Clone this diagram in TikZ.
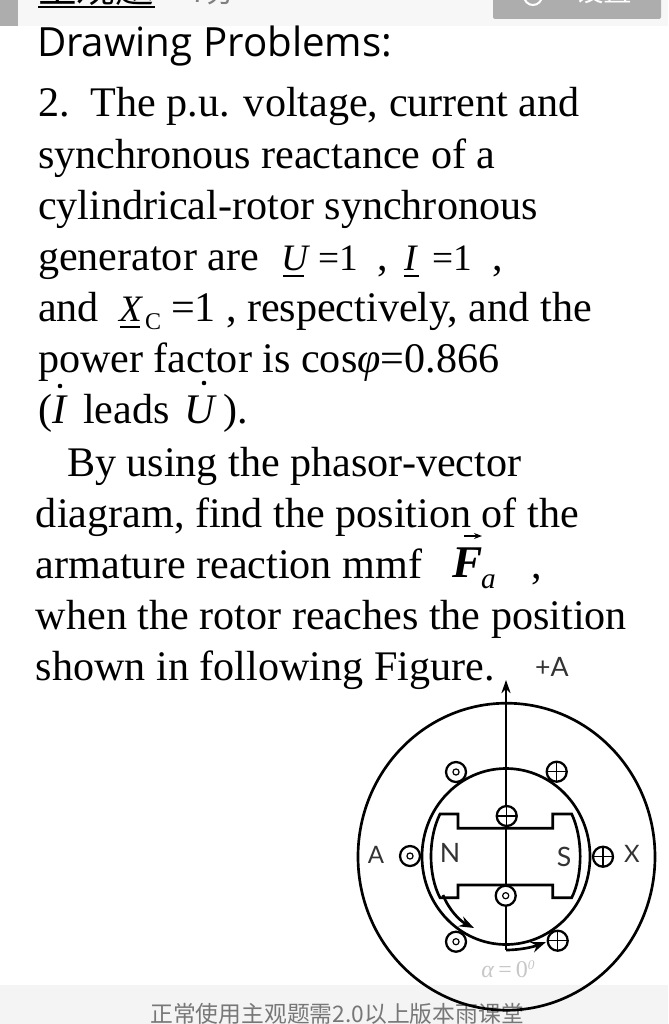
\documentclass[tikz,border=0pt]{standalone}
\usepackage{fontspec}
\setmainfont{Liberation Serif}
\newfontfamily\uifont{Open Sans}
\newfontfamily\labfont{Lato}
\newfontfamily\cjkfont{Noto Sans CJK SC}
\usetikzlibrary{arrows.meta}
\definecolor{barcol}{HTML}{F7F7F7}
\definecolor{tabcol}{HTML}{ADADAD}
\definecolor{footcol}{HTML}{F4F4F4}
\definecolor{foottxt}{HTML}{777777}
\tikzset{
  x=0.75pt,y=-0.75pt,
  txt/.style={anchor=base west,inner sep=0pt,outer sep=0pt,font=\fontsize{31.6}{36}\selectfont},
  mathi/.style={txt,font=\fontsize{31.6}{36}\selectfont\itshape},
  ui/.style={txt,font=\fontsize{30.2}{34}\selectfont\uifont},
  lab/.style={anchor=center,inner sep=0pt,font=\fontsize{18}{20}\selectfont\labfont,text=black!80},
  labbig/.style={lab,font=\fontsize{20}{22}\selectfont\labfont},
  mline/.style={line width=2pt,black},
  axisline/.style={line width=1.1pt,black},
  cond/.style={circle,draw,line width=1.7pt,minimum size=15pt,inner sep=0pt,fill=white},
  condin/.style={cond,path picture={\draw[line width=1.1pt] (path picture bounding box.north)--(path picture bounding box.south) (path picture bounding box.west)--(path picture bounding box.east);}},
  condout/.style={cond,path picture={\draw[line width=0.9pt] (path picture bounding box.center) circle[radius=2.3pt];}},
  tip/.style={-{Stealth[length=11pt,width=8pt]}},
}
\begin{document}
\begin{tikzpicture}
\useasboundingbox (0,0) rectangle (668,1024);
\fill[white] (0,0) rectangle (668,1024);
% top bar
\fill[barcol] (18,0) rectangle (668,26);
\fill[tabcol] (0,0) rectangle (18,26);
\fill[tabcol,rounded corners=1.5pt] (493,-5) rectangle (661,19);
\begin{scope}
\clip (0,0) rectangle (668,26);
\node[anchor=base west,inner sep=0pt,font=\fontsize{29}{30}\selectfont\cjkfont] (tt) at (38,3) {主观题};
\fill (38,6) rectangle (155,8);
\node[anchor=base west,inner sep=0pt,text=gray,font=\fontsize{22}{24}\selectfont\cjkfont] (ts) at (190,3) {7分};
\draw[white,line width=1.5pt] (533,-4) circle[radius=9];
\node[anchor=base west,inner sep=0pt,text=white,font=\fontsize{21.5}{24}\selectfont\cjkfont] (tb) at (575,2) {设置};
\end{scope}
% text
\node[ui] (h) at (37,57) {Drawing Problems:};
\node[txt] (l1) at (38,117) {2.\ \ The p.u. voltage, current and};
\node[txt] (l2) at (38,168) {synchronous reactance of a};
\node[txt] (l3) at (38,219) {cylindrical-rotor synchronous};
\node[txt] (l4) at (38,270) {generator are};
\node[mathi,font=\fontsize{28}{32}\selectfont\itshape] (u) at (281,270) {U};
\fill (283,275) rectangle (304,276.5);
\node[txt,font=\fontsize{28}{32}\selectfont] (ue) at (318,270) {=1};
\node[txt] (uc) at (377,270) {,};
\node[mathi,font=\fontsize{28}{32}\selectfont\itshape] (i) at (404,270) {I};
\fill (404,275) rectangle (419,276.5);
\node[txt,font=\fontsize{28}{32}\selectfont] (ie) at (432,270) {=1};
\node[txt] (ic) at (492,270) {,};
\node[txt] (l5) at (38,321) {and};
\node[mathi,font=\fontsize{28}{32}\selectfont\itshape] (x) at (119,321) {X};
\fill (120,326) rectangle (140,327.5);
\node[txt,font=\fontsize{18}{20}\selectfont] (xc) at (145,329) {C};
\node[txt] (xe) at (171,321) {=1};
\node[txt] (l5b) at (226,321) {, respectively, and the};
\node[txt] (l6) at (38,372) {power factor is cos\textit{φ}=0.866};
\node[txt] (l7) at (38,423) {(};
\node[mathi] (id) at (52,423) {I};
\node[txt] (l7b) at (83,423) {leads};
\node[mathi] (ud) at (184,423) {U};
\node[txt] (l7c) at (223,423) {).};
\fill (60,386) circle[radius=2.3];
\fill (204,383) circle[radius=2.3];
\node[txt] (l8) at (67,476) {By using the phasor-vector};
\node[txt] (l9) at (36,527) {diagram, find the position of the};
\node[txt] (l10) at (36,578) {armature reaction mmf};
\node[mathi,font=\fontsize{34}{38}\selectfont\itshape\bfseries] (f) at (452,577) {F};
\node[txt,font=\fontsize{22}{24}\selectfont\itshape] (fa) at (481,588) {a};
\node[txt] (fc) at (531,578) {,};
\coordinate (fa1) at (464,536);
\coordinate (fa2) at (482,536);
\draw[-{Stealth[length=6pt,width=4.5pt]},line width=0.8pt] (fa1)--(fa2);
\node[txt] (l11) at (36,629) {when the rotor reaches the position};
\node[txt] (l12) at (36,680) {shown in following Figure.};
% footer
\fill[footcol] (0,985) rectangle (668,1024);
\begin{scope}
\clip (0,985) rectangle (668,1024);
\node[anchor=base west,inner sep=0pt,text=foottxt,font=\fontsize{17.1}{20}\selectfont\cjkfont] (ft) at (150,1022) {正常使用主观题需2.0以上版本雨课堂};
\end{scope}
% machine
\draw[mline] (506.5,856.7) ellipse[x radius=148.5,y radius=153.5];
\draw[mline] (506,856.5) ellipse[x radius=84,y radius=88];
% rotor
\draw[mline,line join=miter]
  (440,814) -- (458,814) -- (458,828.3) -- (552.7,828.3) -- (552.7,814) -- (571.7,814)
  .. controls (583,838) and (583,875) .. (571.7,897.7) -- (552.7,897.7) -- (552.7,885)
  -- (458,885) -- (458,897.7) -- (440,897.7) .. controls (428,875) and (428,838) .. (440,814) -- cycle;
% axis
\coordinate (ab) at (506,950);
\coordinate (at) at (506,680);
\draw[axisline,-{Stealth[length=10pt,width=7pt]}] (ab) -- (at);
% rotation arrows
\coordinate (r1s) at (443,895);
\coordinate (r1e) at (474,928);
\draw[mline,tip] (r1s) .. controls (449,910) and (460,921) .. (r1e);
\coordinate (r2s) at (506,950);
\coordinate (r2e) at (546,942);
\draw[mline,tip] (r2s) .. controls (520,950) and (533,947) .. (r2e);
% conductors
\node[condout] (c1) at (456,772) {};
\node[condin]  (c2) at (556.7,771.7) {};
\node[condout] (c3) at (410,856) {};
\node[condin]  (c4) at (603,856.7) {};
\node[condout] (c5) at (456,941.7) {};
\node[condin]  (c6) at (557.7,940.7) {};
\node[condin]  (c7) at (506.7,816) {};
\node[condout] (c8) at (505.7,895.7) {};
% labels
\node[labbig] (pa) at (552,667) {+A};
\node[lab] (la) at (376,855) {A};
\node[lab] (lx) at (632,854) {X};
\node[labbig] (ln) at (450,853) {N};
\node[labbig] (ls) at (564,857) {S};
\node[anchor=center,inner sep=0pt,text=black!22,font=\fontsize{18}{20}\selectfont] (al) at (508,969) {\textit{α}\,=\,0\raisebox{6pt}{\fontsize{10}{11}\selectfont\textit{0}}};
\end{tikzpicture}
\end{document}
